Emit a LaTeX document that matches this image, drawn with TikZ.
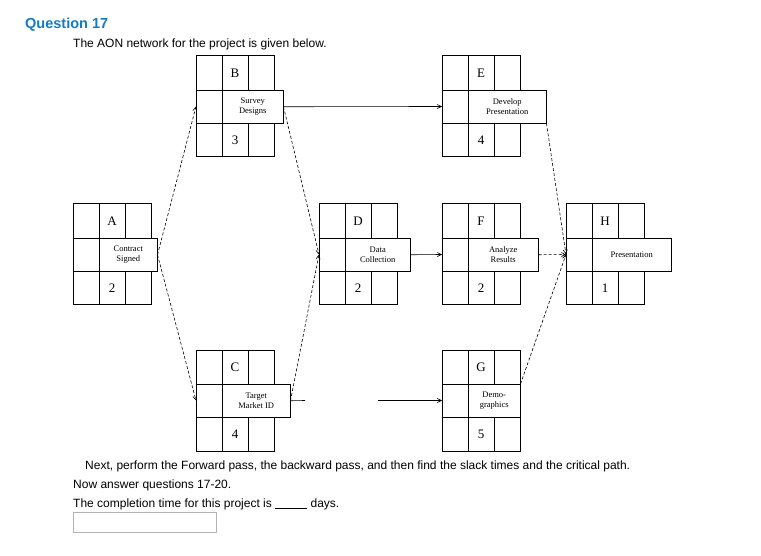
\documentclass[tikz,border=0pt]{standalone}
\usepackage{fontspec}
\setmainfont{Liberation Sans}
\newfontfamily\serifnode{Liberation Serif}
\usetikzlibrary{arrows.meta}
\begin{document}
\begin{tikzpicture}[x=1pt,y=-1pt,
  cell/.style={draw=black,line width=0.5pt},
  lbl/.style={draw=black,fill=white,line width=0.5pt,inner sep=0pt,anchor=north west,font=\serifnode\fontsize{8.5}{9.5}\selectfont,align=center},
  big/.style={font=\serifnode\fontsize{13}{14}\selectfont},
  conn/.style={densely dashed,line width=0.6pt,-{Straight Barb[open,length=4pt,width=4pt]}},
  txt/.style={anchor=west,font=\fontsize{12}{14}\selectfont,inner sep=0pt}]
\useasboundingbox (0,0) rectangle (761,556);
\newcommand{\aonnode}[7]{%
  \draw[cell,line width=1pt] (#2,#3) rectangle ++(78,101);
  \draw[cell] (#2+26,#3) -- ++(0,101) (#2+52,#3) -- ++(0,101)
    (#2,#3+34) -- ++(78,0) (#2,#3+67) -- ++(78,0);
  \node[big] at (#2+39,#3+17) {#4};
  \node[big] at (#2+39,#3+84) {#6};
  \node[lbl,minimum width=#7pt,minimum height=33pt] (#1) at (#2+26,#3+34) {#5};
  \coordinate (#1in) at (#2,#3+50.5);}
\node[anchor=west,inner sep=0pt,text=cyan!60!blue,font=\bfseries\fontsize{14.5}{16}\selectfont] (q) at (25,25) {Question 17};
\node[txt] (t1) at (73,44) {The AON network for the project is given below.};
\aonnode{A}{73}{204}{A}{Contract\\Signed}{2}{58}
\aonnode{B}{196}{56}{B}{Survey\\Designs}{3}{61}
\aonnode{C}{196}{350}{C}{Target\\Market ID}{4}{68}
\aonnode{D}{319}{204}{D}{Data\\Collection}{2}{65}
\aonnode{E}{442}{56}{E}{Develop\\Presentation}{4}{78}
\aonnode{F}{442}{204}{F}{Analyze\\Results}{2}{70}
\aonnode{G}{442}{350}{G}{Demo-\\graphics}{5}{52}
\aonnode{H}{566}{204}{H}{Presentation}{1}{79}
\coordinate (cg) at (305,400.5);
\coordinate (cg2) at (378,400.5);
\draw[conn] (A.east) -- (Bin);
\draw[conn] (A.east) -- (Cin);
\draw[conn] (B.east) -- (Din);
\draw[conn] (C.east) -- (Din);
\draw[conn,solid] (B.east) -- (Ein);
\draw[solid,line width=0.6pt] (C.east) -- (cg);
\draw[conn,solid] (cg2) -- (Gin);
\draw[conn,solid] (D.east) -- (Fin);
\draw[conn] (F.east) -- (Hin);
\draw[conn] (E.south east) -- (Hin);
\draw[conn] (G.north east) -- (Hin);
\node[txt] (t2) at (85,466) {Next, perform the Forward pass, the backward pass, and then find the slack times and the critical path.};
\node[txt] (t3) at (73,485) {Now answer questions 17-20.};
\node[txt] (t4) at (73,504) {The completion time for this project is \underline{\hspace{32pt}} days.};
\node[draw=gray!60,minimum width=143pt,minimum height=20pt,inner sep=0pt,anchor=north west] (box) at (73,512) {};
\end{tikzpicture}
\end{document}
